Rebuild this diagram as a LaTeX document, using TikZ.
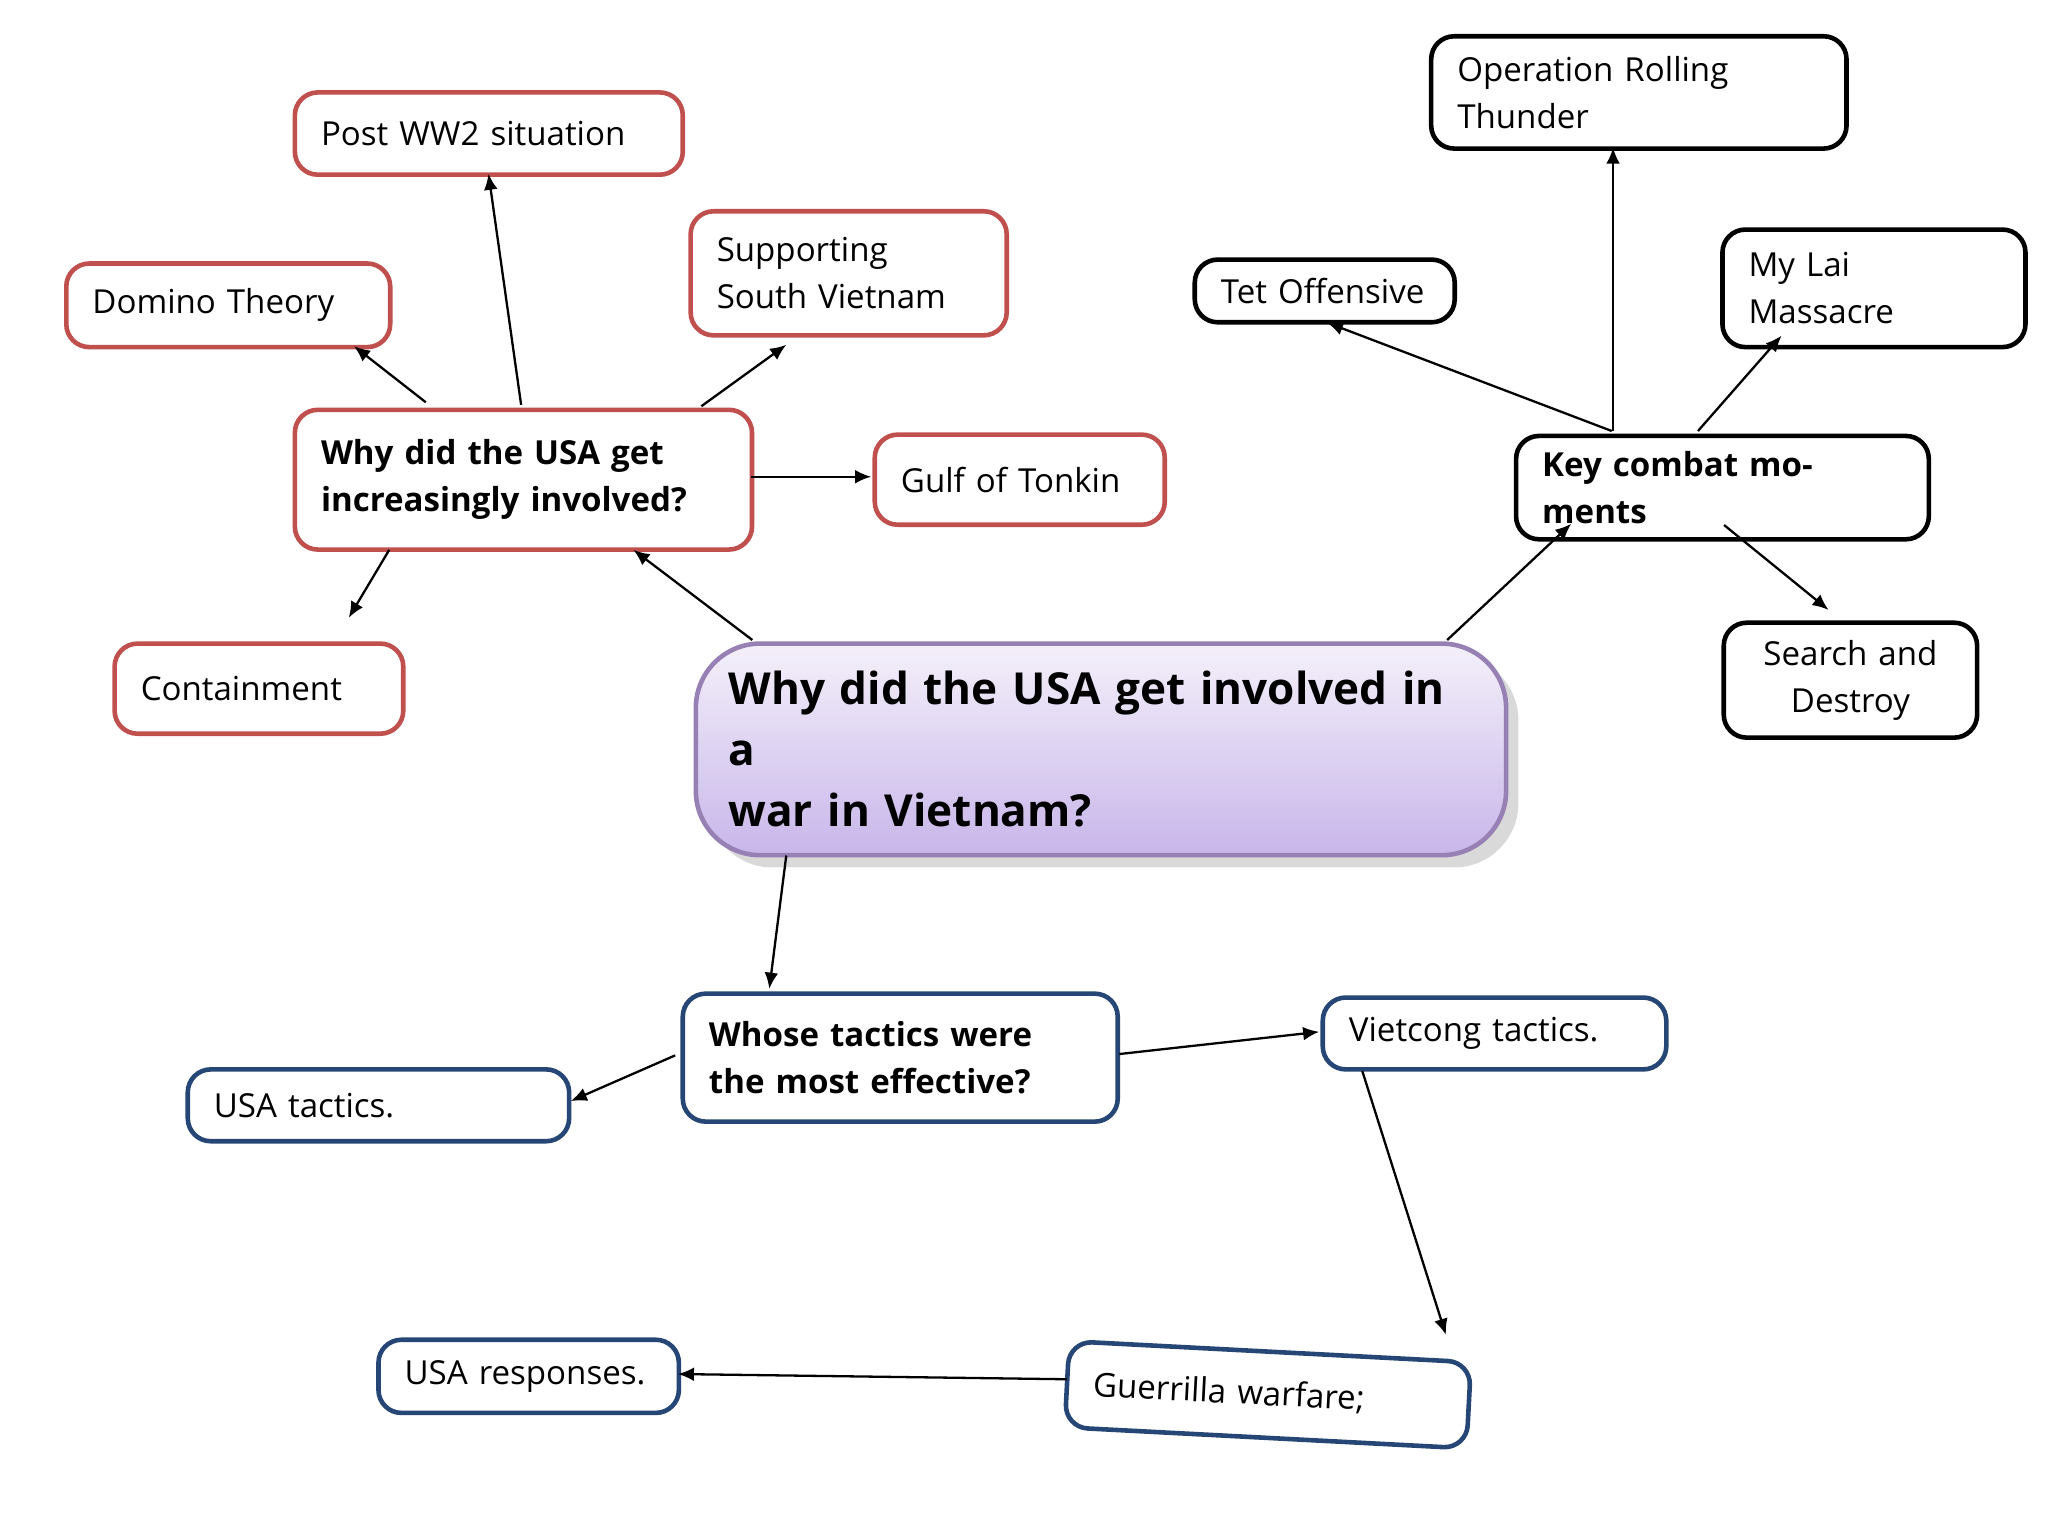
\documentclass[tikz,border=0pt]{standalone}
\usepackage{fontspec}
\setmainfont{Open Sans}
\usetikzlibrary{shadows,arrows.meta}
\definecolor{redb}{RGB}{192,80,77}
\definecolor{blueb}{RGB}{38,70,118}
\definecolor{purt}{RGB}{244,240,250}
\definecolor{purb}{RGB}{200,182,234}
\definecolor{purd}{RGB}{150,128,180}
\tikzset{
  box/.style 2 args={draw, rounded corners=5pt, line width=1pt, anchor=north west,
    minimum width=#1*0.01cm, minimum height=#2*0.01cm, text width=#1*0.01cm-0.4cm,
    inner xsep=0.2cm, align=left,
    font=\fontsize{7.2}{10.3}\selectfont},
  red/.style={draw=redb},
  blu/.style={draw=blueb},
  blk/.style={draw=black},
  arr/.style={-{Latex[length=3.5pt,width=3pt]}, line width=0.5pt},
}
\begin{document}
\begin{tikzpicture}[x=0.01cm,y=-0.01cm]
\useasboundingbox (0,0) rectangle (1568,1176);
% red group
\node[box={297}{63},red] (post) at (224,69) {Post WW2 situation};
\node[box={248}{64},red] (dom) at (49,200) {Domino Theory};
\node[box={242}{95},red] (sup) at (527,160) {Supporting\\South Vietnam};
\node[box={350}{107},red,font=\fontsize{7.2}{10.3}\selectfont\bfseries] (why) at (224,312) {Why did the USA get\\increasingly involved?};
\node[box={222}{69},red] (gulf) at (668,331) {Gulf of Tonkin};
\node[box={221}{69},red] (cont) at (86,491) {Containment};
% main
\node[box={611}{162},draw=purd,rounded corners=14pt,top color=purt,bottom color=purb,
  drop shadow={opacity=0.3},anchor=north west,text width=5.7cm,inner xsep=0.25cm,
  font=\fontsize{9.6}{13.3}\selectfont\bfseries,align=left] (main) at (531,491)
  {\raisebox{0pt}[0pt][0pt]{}Why did the USA get involved in a\\war in Vietnam?\\[0.55cm]};
% black group
\node[box={318}{86},blk] (op) at (1094,26) {Operation Rolling\\Thunder};
\node[box={199}{48},blk] (tet) at (913,197) {Tet Offensive};
\node[box={232}{90},blk] (lai) at (1317,174) {My Lai\\Massacre};
\node[box={316}{68},blk,font=\fontsize{7.2}{10.3}\selectfont\bfseries] (key) at (1159,332) {Key combat moments};
\node[box={194}{88},blk,align=center] (sd) at (1318,475) {Search and\\Destroy};
% blue group
\node[box={333}{98},blu,font=\fontsize{7.2}{10.3}\selectfont\bfseries] (whose) at (521,759) {Whose tactics were\\the most effective?};
\node[box={292}{55},blu] (usat) at (142,817) {USA tactics.};
\node[box={263}{55},blu] (viet) at (1011,762) {Vietcong tactics.};
\node[box={308}{66},blu,rotate=-3] (guer) at (817,1025) {Guerrilla warfare;};
\node[box={230}{56},blu] (usar) at (288,1024) {USA responses.};
% connector ends
\coordinate (w1) at (326,308); \coordinate (d1) at (271,265);
\coordinate (w2) at (399,310); \coordinate (p1) at (374,133);
\coordinate (w3) at (537,311); \coordinate (s1) at (602,264);
\coordinate (w4) at (575,365); \coordinate (g1) at (667,365);
\coordinate (w5) at (298,421); \coordinate (c1) at (267,473);
\coordinate (m1) at (576,490); \coordinate (w6) at (485,421);
\coordinate (m2) at (1108,490); \coordinate (k1) at (1203,401);
\coordinate (k2) at (1234,330); \coordinate (t1) at (1016,247);
\coordinate (k3) at (1235,330); \coordinate (o1) at (1235,113);
\coordinate (k4) at (1300,330); \coordinate (l1) at (1364,257);
\coordinate (k5) at (1320,402); \coordinate (sd1) at (1400,467);
\coordinate (m3) at (602,655); \coordinate (wh1) at (589,757);
\coordinate (wh2) at (517,808); \coordinate (u1) at (437,843);
\coordinate (wh3) at (857,807); \coordinate (v1) at (1010,790);
\coordinate (v2) at (1043,820); \coordinate (gu1) at (1107,1022);
\coordinate (gu2) at (817,1056); \coordinate (r1) at (519,1052);
\draw[arr] (w1) -- (d1);
\draw[arr] (w2) -- (p1);
\draw[arr] (w3) -- (s1);
\draw[arr] (w4) -- (g1);
\draw[arr] (w5) -- (c1);
\draw[arr] (m1) -- (w6);
\draw[arr] (m2) -- (k1);
\draw[arr] (k2) -- (t1);
\draw[arr] (k3) -- (o1);
\draw[arr] (k4) -- (l1);
\draw[arr] (k5) -- (sd1);
\draw[arr] (m3) -- (wh1);
\draw[arr] (wh2) -- (u1);
\draw[arr] (wh3) -- (v1);
\draw[arr] (v2) -- (gu1);
\draw[arr] (gu2) -- (r1);
\end{tikzpicture}
\end{document}
